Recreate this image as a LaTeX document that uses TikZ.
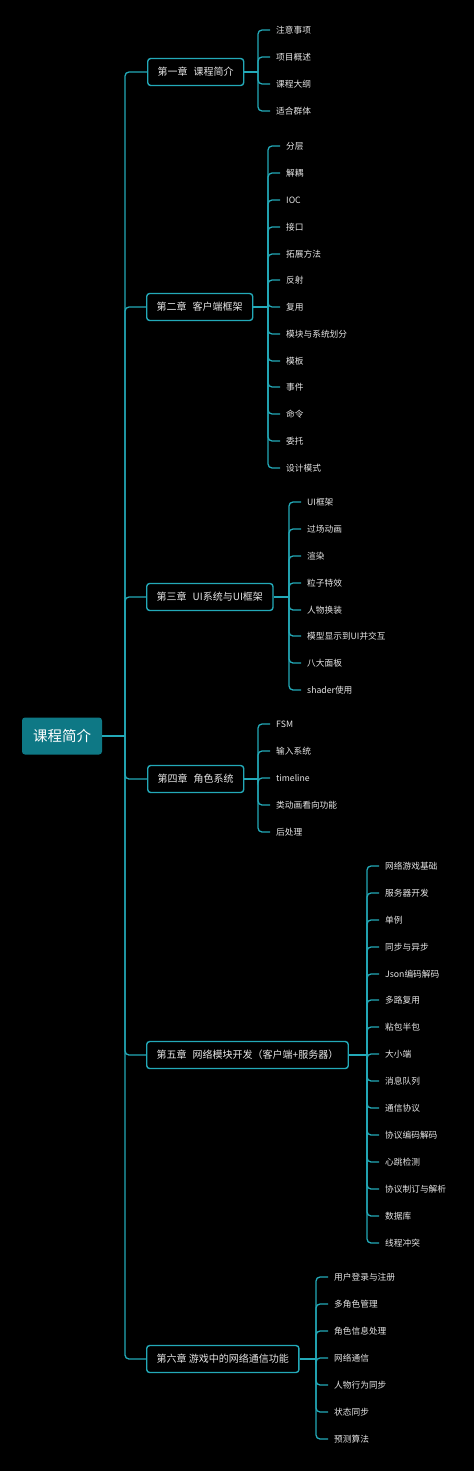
\documentclass[tikz,border=0pt]{standalone}
\usepackage{fontspec}
\setmainfont{Noto Sans CJK SC}
\usepackage{tikz}
\usetikzlibrary{calc}
\definecolor{linecol}{HTML}{23A9B8}
\definecolor{rootcol}{HTML}{0E7885}
\definecolor{leafcol}{HTML}{E6E6E6}

\tikzset{
	rootbox/.style={rectangle,rounded corners=3pt,fill=rootcol,text=white,font=\fontsize{14.5}{17}\selectfont,minimum width=80pt,minimum height=37pt,inner sep=0pt},
	chapbox/.style={rectangle,rounded corners=3pt,draw=linecol,line width=1.4pt,fill=black,text=leafcol,font=\fontsize{10}{12}\selectfont,minimum height=27pt,inner xsep=10pt,anchor=west},
	leaf/.style={anchor=west,text=leafcol,font=\fontsize{8.7}{10}\selectfont,inner xsep=6pt,inner ysep=0pt},
	link/.style={draw=linecol,line width=1.3pt,rounded corners=4pt}
}

\begin{document}
\begin{tikzpicture}[x=1pt,y=-1pt]
		\fill [black] (0,0) rectangle (474,1471);
		\useasboundingbox (0,0) rectangle (474,1471);

		\node [rootbox] (root) at (62, 736) {课程简介};
		\coordinate (t) at (125, 736);

		\node [chapbox] (c1) at (147, 72) {第一章\hspace{0.6em}课程简介};
		\node [chapbox] (c2) at (146, 307) {第二章\hspace{0.6em}客户端框架};
		\node [chapbox] (c3) at (146, 597) {第三章\hspace{0.6em}UI系统与UI框架};
		\node [chapbox] (c4) at (147, 779) {第四章\hspace{0.6em}角色系统};
		\node [chapbox] (c5) at (146, 1055) {第五章\hspace{0.6em}网络模块开发（客户端+服务器）};
		\node [chapbox] (c6) at (146, 1359) {第六章 游戏中的网络通信功能};

		\draw [link] (root) -- (t);
		\draw [link] (t) |- (c1.west);
		\draw [link] (t) |- (c2.west);
		\draw [link] (t) |- (c3.west);
		\draw [link] (t) |- (c4.west);
		\draw [link] (t) |- (c5.west);
		\draw [link] (t) |- (c6.west);

		% chapter 1
		\coordinate (b1) at (258, 72);
		\node [leaf] (l11) at (270, 30) {注意事项};
		\node [leaf] (l12) at (270, 57) {项目概述};
		\node [leaf] (l13) at (270, 84) {课程大纲};
		\node [leaf] (l14) at (270, 111) {适合群体};
		\draw [link] (c1) -- (b1);
		\draw [link] (b1) |- (l11.west);
		\draw [link] (b1) |- (l12.west);
		\draw [link] (b1) |- (l13.west);
		\draw [link] (b1) |- (l14.west);

		% chapter 2
		\coordinate (b2) at (268, 307);
		\node [leaf] (l21) at (280, 146) {分层};
		\node [leaf] (l22) at (280, 173) {解耦};
		\node [leaf] (l23) at (280, 200) {IOC};
		\node [leaf] (l24) at (280, 227) {接口};
		\node [leaf] (l25) at (280, 254) {拓展方法};
		\node [leaf] (l26) at (280, 280) {反射};
		\node [leaf] (l27) at (280, 307) {复用};
		\node [leaf] (l28) at (280, 334) {模块与系统划分};
		\node [leaf] (l29) at (280, 361) {模板};
		\node [leaf] (l210) at (280, 387) {事件};
		\node [leaf] (l211) at (280, 414) {命令};
		\node [leaf] (l212) at (280, 441) {委托};
		\node [leaf] (l213) at (280, 468) {设计模式};
		\draw [link] (c2) -- (b2);
		\draw [link] (b2) |- (l21.west);
		\draw [link] (b2) |- (l22.west);
		\draw [link] (b2) |- (l23.west);
		\draw [link] (b2) |- (l24.west);
		\draw [link] (b2) |- (l25.west);
		\draw [link] (b2) |- (l26.west);
		\draw [link] (b2) |- (l27.west);
		\draw [link] (b2) |- (l28.west);
		\draw [link] (b2) |- (l29.west);
		\draw [link] (b2) |- (l210.west);
		\draw [link] (b2) |- (l211.west);
		\draw [link] (b2) |- (l212.west);
		\draw [link] (b2) |- (l213.west);

		% chapter 3
		\coordinate (b3) at (289, 597);
		\node [leaf] (l31) at (301, 502) {UI框架};
		\node [leaf] (l32) at (301, 529) {过场动画};
		\node [leaf] (l33) at (301, 556) {渲染};
		\node [leaf] (l34) at (301, 583) {粒子特效};
		\node [leaf] (l35) at (301, 610) {人物换装};
		\node [leaf] (l36) at (301, 636) {模型显示到UI并交互};
		\node [leaf] (l37) at (301, 663) {八大面板};
		\node [leaf] (l38) at (301, 690) {shader使用};
		\draw [link] (c3) -- (b3);
		\draw [link] (b3) |- (l31.west);
		\draw [link] (b3) |- (l32.west);
		\draw [link] (b3) |- (l33.west);
		\draw [link] (b3) |- (l34.west);
		\draw [link] (b3) |- (l35.west);
		\draw [link] (b3) |- (l36.west);
		\draw [link] (b3) |- (l37.west);
		\draw [link] (b3) |- (l38.west);

		% chapter 4
		\coordinate (b4) at (258, 779);
		\node [leaf] (l41) at (270, 724) {FSM};
		\node [leaf] (l42) at (270, 751) {输入系统};
		\node [leaf] (l43) at (270, 778) {timeline};
		\node [leaf] (l44) at (270, 805) {类动画看向功能};
		\node [leaf] (l45) at (270, 832) {后处理};
		\draw [link] (c4) -- (b4);
		\draw [link] (b4) |- (l41.west);
		\draw [link] (b4) |- (l42.west);
		\draw [link] (b4) |- (l43.west);
		\draw [link] (b4) |- (l44.west);
		\draw [link] (b4) |- (l45.west);

		% chapter 5
		\coordinate (b5) at (367, 1055);
		\node [leaf] (l51) at (379, 866) {网络游戏基础};
		\node [leaf] (l52) at (379, 893) {服务器开发};
		\node [leaf] (l53) at (379, 920) {单例};
		\node [leaf] (l54) at (379, 947) {同步与异步};
		\node [leaf] (l55) at (379, 974) {Json编码解码};
		\node [leaf] (l56) at (379, 1000) {多路复用};
		\node [leaf] (l57) at (379, 1027) {粘包半包};
		\node [leaf] (l58) at (379, 1054) {大小端};
		\node [leaf] (l59) at (379, 1081) {消息队列};
		\node [leaf] (l510) at (379, 1108) {通信协议};
		\node [leaf] (l511) at (379, 1135) {协议编码解码};
		\node [leaf] (l512) at (379, 1162) {心跳检测};
		\node [leaf] (l513) at (379, 1189) {协议制订与解析};
		\node [leaf] (l514) at (379, 1216) {数据库};
		\node [leaf] (l515) at (379, 1243) {线程冲突};
		\draw [link] (c5) -- (b5);
		\draw [link] (b5) |- (l51.west);
		\draw [link] (b5) |- (l52.west);
		\draw [link] (b5) |- (l53.west);
		\draw [link] (b5) |- (l54.west);
		\draw [link] (b5) |- (l55.west);
		\draw [link] (b5) |- (l56.west);
		\draw [link] (b5) |- (l57.west);
		\draw [link] (b5) |- (l58.west);
		\draw [link] (b5) |- (l59.west);
		\draw [link] (b5) |- (l510.west);
		\draw [link] (b5) |- (l511.west);
		\draw [link] (b5) |- (l512.west);
		\draw [link] (b5) |- (l513.west);
		\draw [link] (b5) |- (l514.west);
		\draw [link] (b5) |- (l515.west);

		% chapter 6
		\coordinate (b6) at (316, 1359);
		\node [leaf] (l61) at (328, 1277) {用户登录与注册};
		\node [leaf] (l62) at (328, 1304) {多角色管理};
		\node [leaf] (l63) at (328, 1331) {角色信息处理};
		\node [leaf] (l64) at (328, 1358) {网络通信};
		\node [leaf] (l65) at (328, 1385) {人物行为同步};
		\node [leaf] (l66) at (328, 1412) {状态同步};
		\node [leaf] (l67) at (328, 1439) {预测算法};
		\draw [link] (c6) -- (b6);
		\draw [link] (b6) |- (l61.west);
		\draw [link] (b6) |- (l62.west);
		\draw [link] (b6) |- (l63.west);
		\draw [link] (b6) |- (l64.west);
		\draw [link] (b6) |- (l65.west);
		\draw [link] (b6) |- (l66.west);
		\draw [link] (b6) |- (l67.west);
\end{tikzpicture}
\end{document}
